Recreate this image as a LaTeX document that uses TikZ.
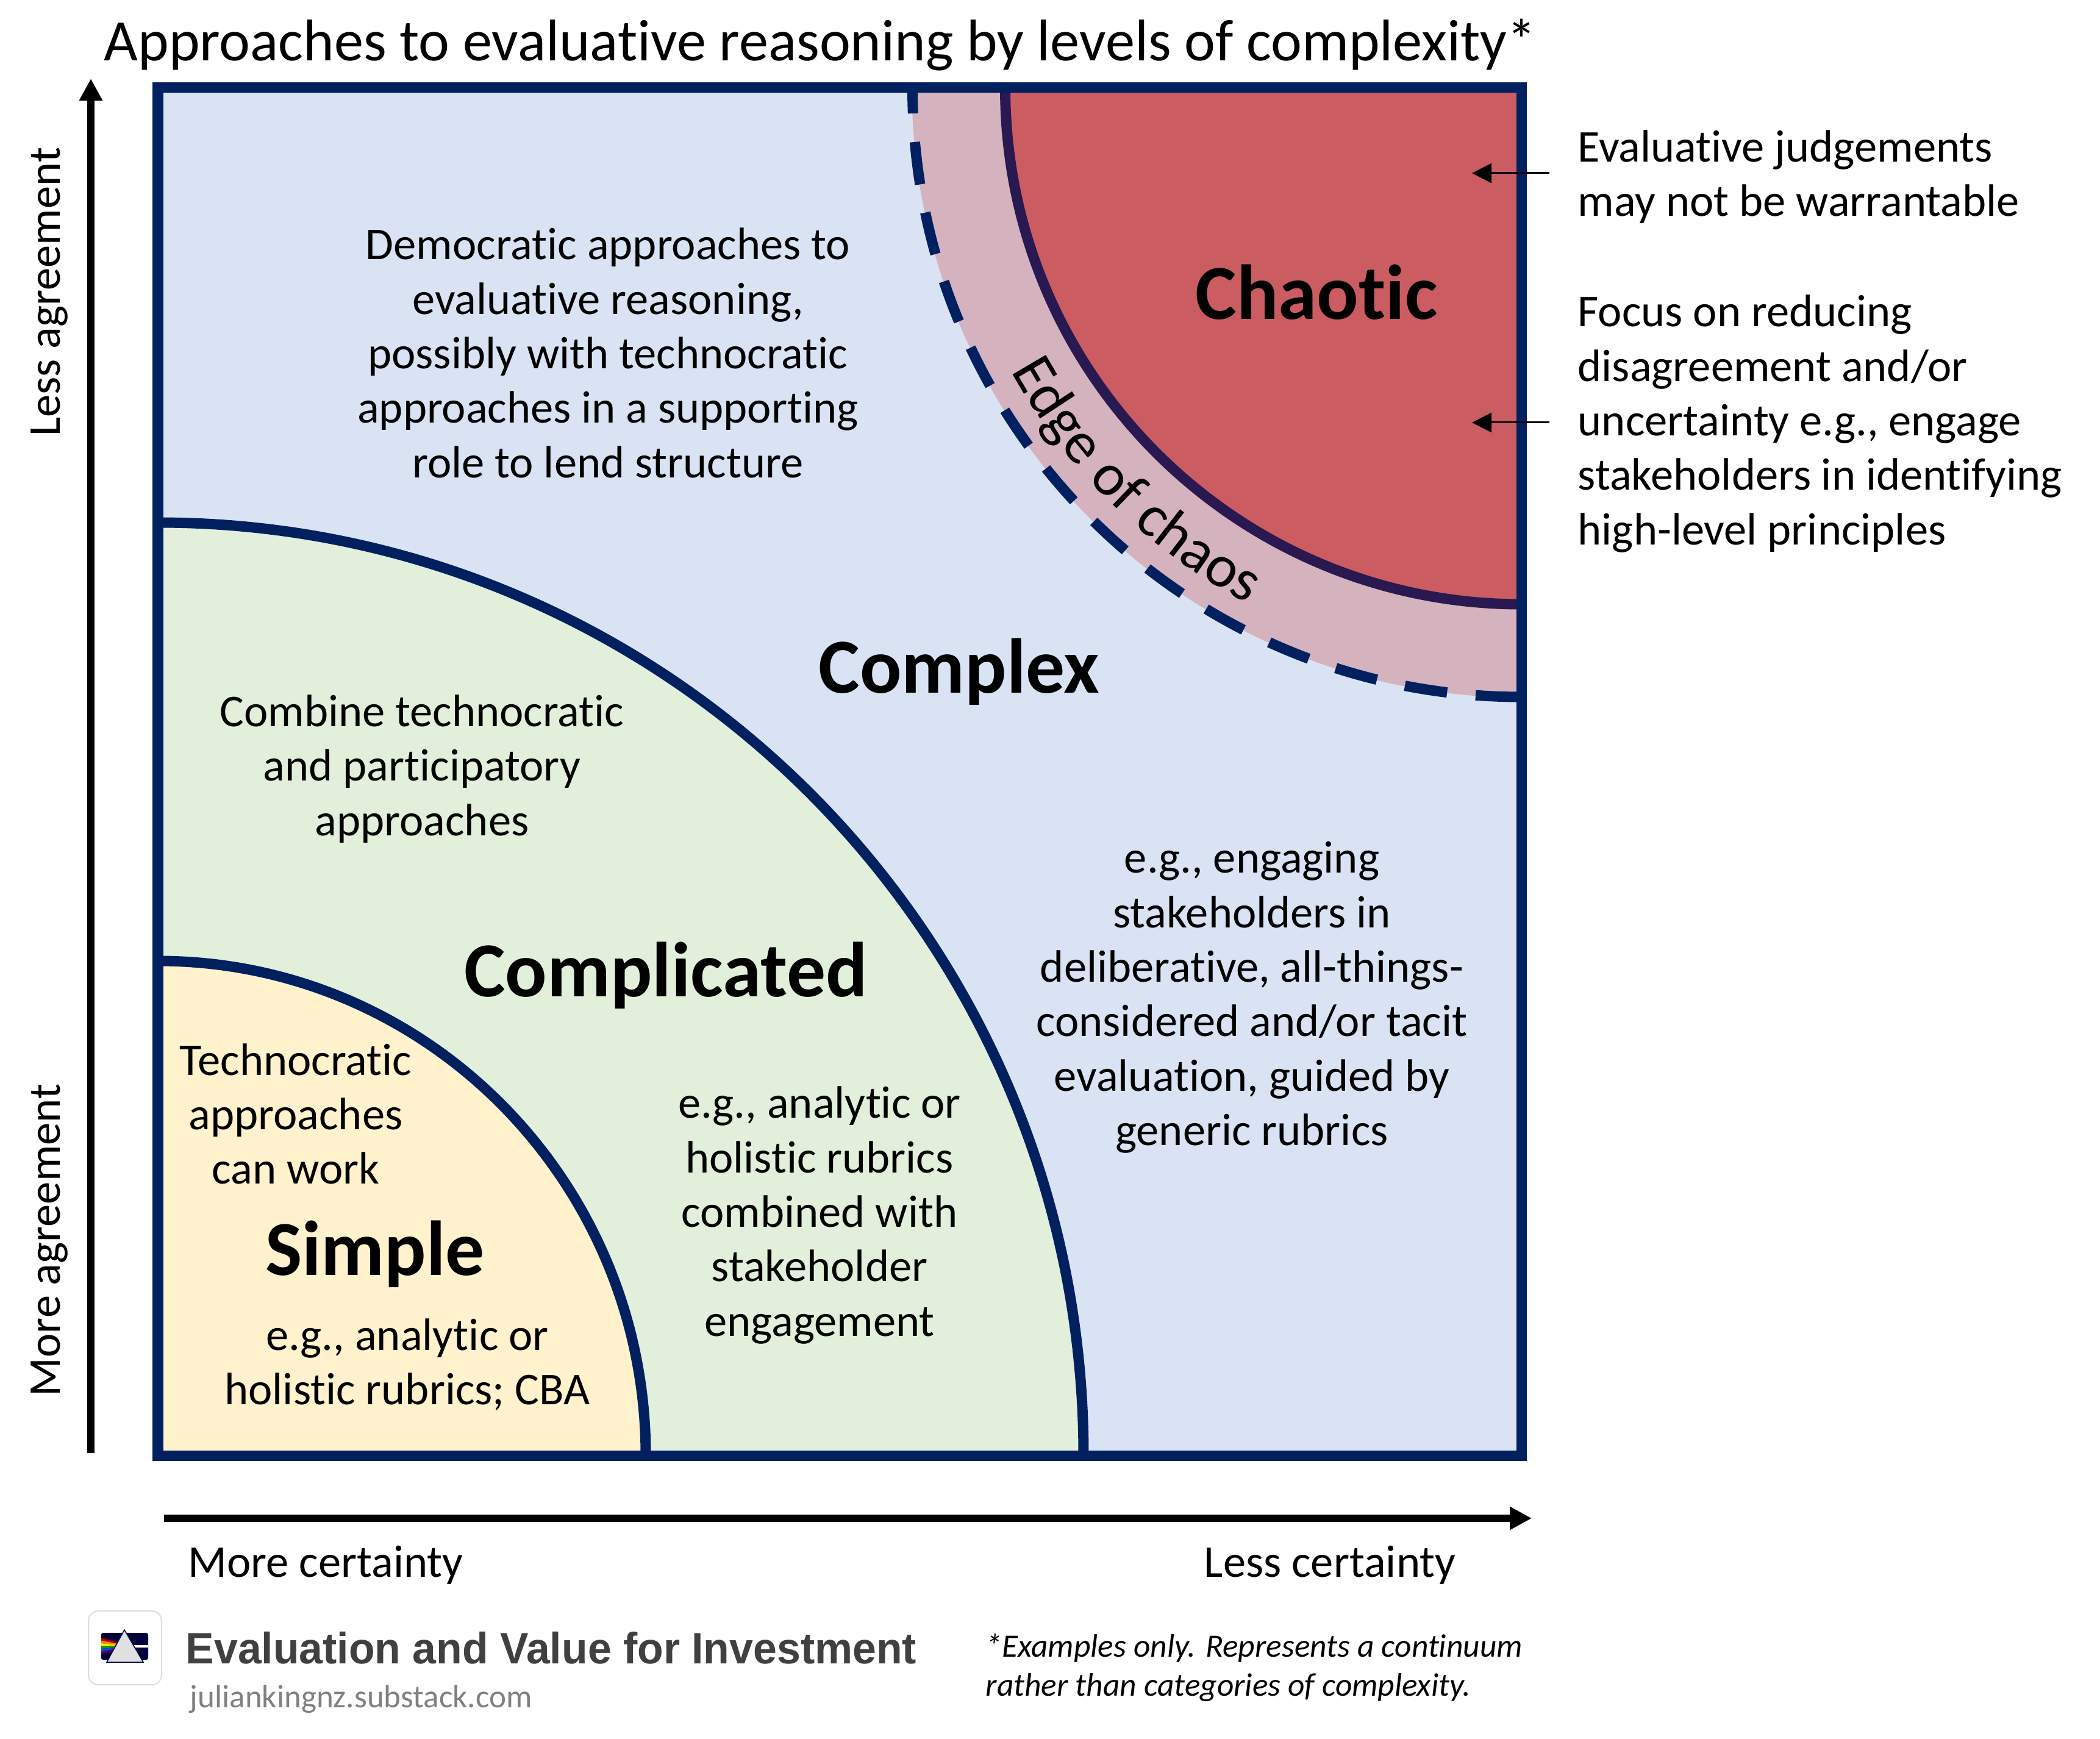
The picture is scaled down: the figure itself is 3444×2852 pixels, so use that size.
\documentclass[tikz,border=0pt]{standalone}
\usepackage{fontspec}
\usetikzlibrary{arrows.meta,decorations.text}
\setmainfont[Ligatures=NoCommon]{Carlito}
\newfontfamily\logofont[FakeStretch=0.968]{Liberation Sans}
\definecolor{framecol}{HTML}{002060}
\definecolor{complexcol}{HTML}{DAE3F3}
\definecolor{compcol}{HTML}{E2EFDA}
\definecolor{simplecol}{HTML}{FFF2CC}
\definecolor{chaoscol}{HTML}{CB5C62}
\definecolor{edgecol}{HTML}{D4B2BE}
\definecolor{chaosline}{HTML}{2A1850}
\begin{document}
\begin{tikzpicture}[x=0.01cm,y=-0.01cm,
  every node/.style={inner sep=0pt,align=center},
  body/.style={font=\fontsize{21.2}{25.4}\selectfont},
  note/.style={body,anchor=west,align=left},
  heading/.style={font=\fontsize{36.3}{40}\selectfont\bfseries},
  axisline/.style={line width=0.12cm,-{Triangle[length=0.36cm,width=0.36cm]}},
  pointer/.style={line width=0.03cm,-{Triangle[length=0.32cm,width=0.32cm]}},
  zoneline/.style={framecol,line width=0.17cm}]
\useasboundingbox (0,0) rectangle (3444,2852);
\coordinate (tr) at (2495.5,144); \coordinate (bl) at (259,2387);
\fill[complexcol] (bl) rectangle (tr);
\fill[edgecol] (tr) -- ++(-1000,0) arc[start angle=180,end angle=90,radius=1000] -- cycle;
\fill[chaoscol] (tr) -- ++(-847,0) arc[start angle=180,end angle=90,radius=847] -- cycle;
\draw[chaosline,line width=0.17cm] (tr) ++(-847,0) arc[start angle=180,end angle=90,radius=847];
\draw[framecol,line width=0.17cm,dash pattern=on 0.70cm off 0.47cm,dash phase=0.28cm]
  (tr) ++(-999,0) arc[start angle=180,end angle=90,radius=999];
\fill[compcol] (bl) -- ++(1518,0) arc[start angle=0,end angle=-90,x radius=1518,y radius=1530] -- cycle;
\draw[zoneline] (bl) ++(1518,0) arc[start angle=0,end angle=-90,x radius=1518,y radius=1530];
\fill[simplecol] (bl) -- ++(800,0) arc[start angle=0,end angle=-90,x radius=800,y radius=811] -- cycle;
\draw[zoneline] (bl) ++(800,0) arc[start angle=0,end angle=-90,x radius=800,y radius=811];
\draw[framecol,line width=0.17cm] (bl) rectangle (tr);
% text along the edge band
\path[postaction={decorate,decoration={text along path,text align=center,
  text={|\fontsize{28}{30}\selectfont|Edge of chaos}}}]
  (tr) ++(152:958) arc[start angle=152,end angle=117,radius=958];
% title and axes
\node (title) at (1345,74) {\fontsize{27.4}{32}\selectfont Approaches to evaluative reasoning by levels of complexity*};
\coordinate (ybot) at (149,2383); \coordinate (ytop) at (149,129);
\coordinate (xleft) at (269,2490); \coordinate (xright) at (2512,2490);
\draw[axisline] (ybot) -- (ytop);
\draw[axisline] (xleft) -- (xright);
\node[body,rotate=90] (lessagree) at (81,479) {Less agreement};
\node[body,rotate=90] (moreagree) at (81,2034) {More agreement};
\node[body] (morecert) at (534,2567) {More certainty};
\node[body] (lesscert) at (2181,2567) {Less certainty};
% zone labels
\node[heading] (chaotic) at (2159,479) {Chaotic};
\node[heading] (complex) at (1573,1102) {Complex};
\node[heading] (complicated) at (1092,1600) {Complicated};
\node[heading] (simple) at (615,2057) {Simple};
\node[body] (democratic) at (997,579) {Democratic approaches to\\evaluative reasoning,\\possibly with technocratic\\approaches in a supporting\\role to lend structure};
\node[body] (combine) at (692,1261) {Combine technocratic\\and participatory\\approaches};
\node[body] (deliberative) at (2053,1636) {e.g., engaging\\stakeholders in\\deliberative, all-things-\\considered and/or tacit\\evaluation, guided by\\generic rubrics};
\node[body] (techno) at (485,1827) {Technocratic\\approaches\\can work};
\node[body] (simplex) at (668,2238) {e.g., analytic or\\holistic rubrics; CBA};
\node[body] (compex) at (1344,1993) {e.g., analytic or\\holistic rubrics\\combined with\\stakeholder\\engagement};
% side notes
\node[note] (warrant) at (2587,290) {Evaluative judgements\\may not be warrantable};
\node[note] (focus) at (2587,695) {Focus on reducing\\disagreement and/or\\uncertainty e.g., engage\\stakeholders in identifying\\high-level principles};
\coordinate (warranttip) at (2414,284); \coordinate (focustip) at (2414,693);
\draw[pointer] (2541,284) coordinate (warrantend) -- (warranttip);
\draw[pointer] (2541,693) coordinate (focusend) -- (focustip);
% logo
\draw[draw=blue!8!gray!25,line width=0.02cm,fill=white,rounded corners=0.16cm] (145,2642) rectangle (265,2763);
\fill[black!60!blue!60!black,rounded corners=0.03cm] (166,2678) rectangle (243,2722);
\foreach \ya/\yb/\bandcol in {2686/2690.5/red!75!black,2690.5/2695/orange,2695/2699.5/yellow!90!orange,2699.5/2704/green!60!black,2704/2708.5/blue!70!cyan,2708.5/2713/violet!70!black}
  \fill[\bandcol] (166,\ya) -- (166,\yb) -- (215,2700) -- cycle;
\fill[white] (215,2698) rectangle (243,2702);
\draw[black!60!blue!60!black,line width=0.015cm,fill=black!12] (204,2673) -- (235,2726) -- (175,2726) -- cycle;
\node[anchor=west,text=black!75] (evi) at (304,2703) {\logofont\bfseries\fontsize{20.5}{24}\selectfont Evaluation and Value for Investment};
\node[anchor=west,text=black!50] (substack) at (311,2787) {\fontsize{15.1}{18}\selectfont juliankingnz.substack.com};
\node[anchor=west,align=left,font=\fontsize{15.2}{18.2}\selectfont\itshape] (examples) at (1616,2735) {*Examples only. Represents a continuum\\rather than categories of complexity.};
\end{tikzpicture}
\end{document}
